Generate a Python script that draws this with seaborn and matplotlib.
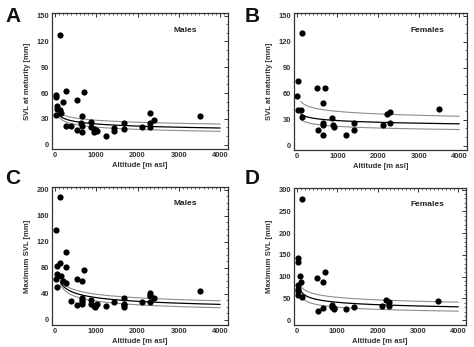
import numpy as np
import pandas as pd
import matplotlib
matplotlib.use("Agg")
import matplotlib.pyplot as plt
from matplotlib.ticker import MultipleLocator
import seaborn as sns

sns.set_theme(style="white")
plt.rcParams["font.family"] = ["Liberation Sans", "DejaVu Sans"]

# ---- SVL at maturity, males (panel A) ----
alt_a = [30, 30, 40, 55, 30, 120, 120, 137, 200, 258, 266, 380, 524, 524,
         645, 630, 645, 645, 710, 880, 880, 935, 950, 990, 1030, 1234,
         1427, 1427, 1670, 1670, 2120, 2300, 2300, 2300, 2400, 3508]
svl_a = [57.6, 55, 45, 42, 35, 40, 128, 37, 50, 62, 22, 22, 52, 17,
         33.6, 25, 22, 15, 61, 26, 20, 18, 15, 17, 16, 10,
         19, 15.5, 25, 18, 20, 37, 25, 20, 29, 33]

# ---- SVL at maturity, females (panel B) ----
alt_b = [24, 16, 40, 97, 121, 137, 500, 702, 645, 516, 645, 645, 645,
         871, 879, 927, 1210, 1411, 1411, 2113, 2210, 2290, 2290, 3500]
svl_b = [75, 57.6, 40.6, 41.7, 129.5, 33, 66, 66, 48.7, 17.8, 26, 24, 12.8,
         32, 24, 21, 12, 26.7, 17.8, 24, 37, 39, 26.7, 42]

# ---- Maximum SVL, males (panel C) ----
alt_c = [32, 129, 40, 55, 32, 40, 113, 137, 185, 258, 258, 266, 380, 524,
         524, 645, 710, 645, 645, 645, 645, 880, 880, 935, 960, 990, 1030,
         1234, 1427, 1670, 1670, 1670, 1670, 2120, 2300, 2300, 2300, 2300,
         2400, 3508]
max_c = [138.5, 188, 83, 70, 62, 51, 88, 68, 59, 104.6, 81.5, 56, 29, 63,
         22, 59, 77, 34, 31, 27, 24, 30, 24, 21.5, 19, 22.6, 25,
         21.5, 27.7, 33, 25, 22, 19.5, 27.7, 40.5, 38.5, 36, 26.7,
         33, 44.6]

# ---- Maximum SVL, females (panel D) ----
alt_d = [129, 32, 32, 89, 32, 24, 32, 32, 113, 129, 500, 645, 702, 516,
         645, 871, 871, 927, 911, 1210, 1411, 2113, 2210, 2290, 2290, 3500]
max_d = [277.7, 143.8, 133.8, 101.5, 82, 72, 67, 59, 87.7, 53, 97.7, 87.7,
         111.5, 20.8, 27, 36, 30, 28.5, 26, 26, 30.8, 32.3, 46, 42.3, 33.8,
         43.8]

# Fitted power models y = a * altitude**b: (lower band, fit, upper band)
fit_a = [(79.6, -0.197), (71.3, -0.157), (66.0, -0.122)]
fit_b = [(55.1, -0.131), (57.6, -0.0997), (84.5, -0.110)]
fit_c = [(254.7, -0.316), (208.0, -0.262), (173.5, -0.215)]
fit_d = [(182.8, -0.262), (174.6, -0.209), (171.5, -0.171)]
fit_start = [90, 100, 130, 70]

panel_letters = ["A", "B", "C", "D"]
sex_labels = ["Males", "Females", "Males", "Females"]
y_labels = ["SVL at maturity [mm]", "SVL at maturity [mm]",
            "Maximum SVL [mm]", "Maximum SVL [mm]"]
y_limits = [(-5, 153), (-5, 153), (-8, 204), (-11, 304)]
y_major = [30, 30, 40, 50]
y_minor = [10, 10, 10, 10]
x_label = "Altitude [m asl]"

W, H = 474, 347
fig = plt.figure(figsize=(W / 100, H / 100), dpi=100)
boxes = [(52, 13, 228, 149), (294, 13, 467, 150),
         (52, 187, 228, 325), (294, 188, 466, 325)]
letter_pos = [(5, 16), (245, 16), (5, 179), (245, 179)]
sex_pos = [(0.69, 0.875), (0.676, 0.875), (0.69, 0.877), (0.676, 0.877)]

panels = [(alt_a, svl_a, fit_a), (alt_b, svl_b, fit_b),
          (alt_c, max_c, fit_c), (alt_d, max_d, fit_d)]

for i, ((xs, ys, fits), (l, t, r, b)) in enumerate(zip(panels, boxes)):
    ax = fig.add_axes([l / W, 1 - b / H, (r - l) / W, (b - t) / H])
    df = pd.DataFrame({"alt": xs, "svl": ys})
    sns.scatterplot(data=df, x="alt", y="svl", ax=ax, color="black",
                    s=20, linewidth=0, zorder=3)
    xx = np.linspace(fit_start[i], 4000, 300)
    for k, (a, bexp) in enumerate(fits):
        curve = pd.DataFrame({"alt": xx, "svl": a * xx ** bexp})
        sns.lineplot(data=curve, x="alt", y="svl", ax=ax,
                     color="black" if k == 1 else "#8c8c8c",
                     linewidth=0.9 if k == 1 else 0.8, zorder=2)
    ax.set_xlim(-70, 4190)
    ax.set_ylim(*y_limits[i])
    ax.xaxis.set_major_locator(MultipleLocator(1000))
    ax.xaxis.set_minor_locator(MultipleLocator(100))
    ax.yaxis.set_major_locator(MultipleLocator(y_major[i]))
    ax.yaxis.set_minor_locator(MultipleLocator(y_minor[i]))
    ax.tick_params(which="both", direction="in", top=True, right=True,
                   colors="#333333", labelsize=5.4, pad=2)
    ax.tick_params(which="major", length=3, width=0.7)
    ax.tick_params(which="minor", length=1.5, width=0.5)
    for lab in ax.get_xticklabels() + ax.get_yticklabels():
        lab.set_fontweight("bold")
    for sp in ax.spines.values():
        sp.set_linewidth(0.9)
        sp.set_color("#333333")
    ax.set_xlabel(x_label, fontsize=5.5, fontweight="bold", color="#333333",
                  labelpad=2)
    ax.set_ylabel(y_labels[i], fontsize=5.5, fontweight="bold",
                  color="#333333", labelpad=4)
    ax.text(sex_pos[i][0], sex_pos[i][1], sex_labels[i],
            transform=ax.transAxes, fontsize=6, fontweight="bold",
            color="#222222", ha="left", va="center")
    fig.text(letter_pos[i][0] / W, 1 - letter_pos[i][1] / H,
             panel_letters[i], fontsize=15, fontweight="bold",
             color="#111111", ha="left", va="center")

fig.savefig("out.png", dpi=100)
